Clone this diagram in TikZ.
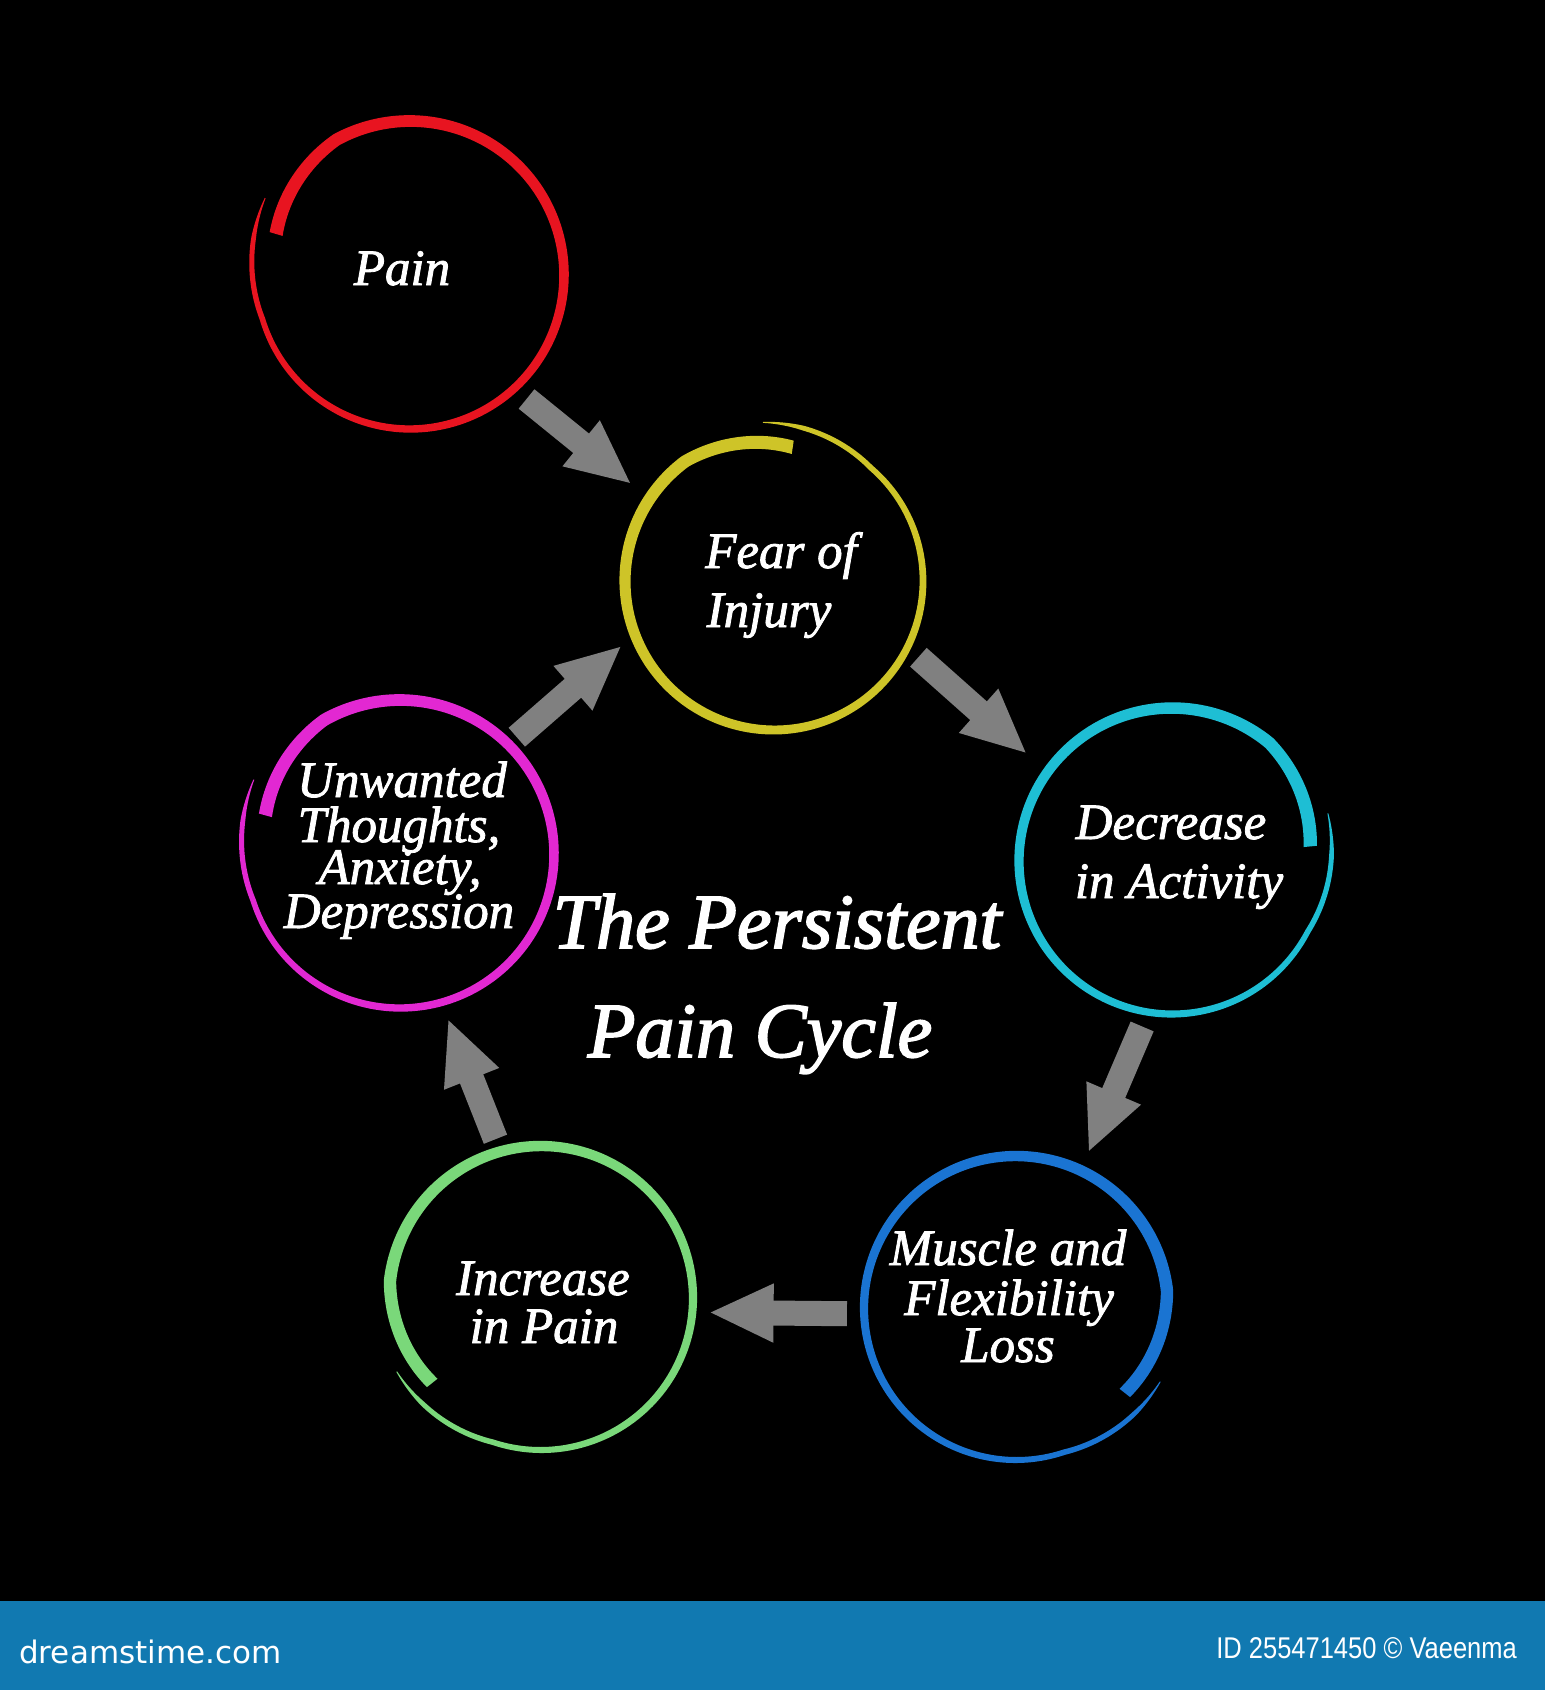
\documentclass[tikz,border=0pt]{standalone}
\usepackage{fontspec}
\setmainfont{Liberation Serif}[ItalicFeatures={FakeBold=1.6}]
\newfontfamily\titlefont{Liberation Serif}[ItalicFeatures={FakeBold=2.2}]
\newfontfamily\barfont{DejaVu Sans}
\newfontfamily\idfont[FakeStretch=0.85]{Liberation Sans}
\usetikzlibrary{arrows.meta}
\definecolor{cred}{RGB}{232,20,32}
\definecolor{cyellow}{RGB}{206,196,40}
\definecolor{ccyan}{RGB}{30,190,212}
\definecolor{cblue}{RGB}{26,116,210}
\definecolor{cgreen}{RGB}{122,216,122}
\definecolor{cmagenta}{RGB}{226,40,210}
\definecolor{arrowgray}{RGB}{128,128,128}
\definecolor{barblue}{RGB}{17,121,177}
\newcommand{\brushring}[6]{%
  \fill[#6] plot[domain=0:1,samples=260,variable=\s]
   ({#1+(rr(\s,#3)+ww(\s)/2)*cos(#4+(#5)*\s)},{#2-(rr(\s,#3)+ww(\s)/2)*sin(#4+(#5)*\s)})
   -- plot[domain=1:0,samples=260,variable=\s]
   ({#1+(rr(\s,#3)-ww(\s)/2)*cos(#4+(#5)*\s)},{#2-(rr(\s,#3)-ww(\s)/2)*sin(#4+(#5)*\s)})
   -- cycle;}
\begin{document}
\begin{tikzpicture}[x=1pt,y=-1pt,
  ring/.style={circle,draw=none,minimum size=330pt,inner sep=0pt},
  lbl/.style={text=white,inner sep=0pt,anchor=base,font=\fontsize{51}{51}\selectfont\itshape},
  ttl/.style={text=white,inner sep=0pt,anchor=base,font=\titlefont\fontsize{78}{78}\selectfont\itshape},
  blockarrow/.style={draw=arrowgray,line width=25pt,-{Triangle[length=65pt,width=54pt]}},
  declare function={rr(\s,\R)=\R-14*max(0,1-\s/0.12)+10*max(0,(\s-0.88)/0.12);
                    ww(\s)=(13.5-9*\s)*min(1,(1-\s)/0.05+0.2);}
]
\useasboundingbox (0,0) rectangle (1545,1690);
\fill[black] (0,0) rectangle (1545,1690);

% circle nodes
\node[ring] (pain) at (410,275) {};
\node[ring] (fear) at (774,581) {};
\node[ring] (decr) at (1172,861) {};
\node[ring] (musc) at (1016,1308) {};
\node[ring] (incr) at (541,1298) {};
\node[ring] (unwa) at (400,854) {};

% brush rings
\brushring{410}{275}{154}{163}{-371}{cred}
\brushring{774}{581}{149}{82}{372}{cyellow}
\brushring{1172}{861}{153}{6}{371}{ccyan}
\brushring{1016}{1308}{152}{-38}{371}{cblue}
\brushring{541}{1298}{152}{218}{-371}{cgreen}
\brushring{400}{854}{154}{164}{-371}{cmagenta}

% labels
\node[lbl] (painA) at (402,285) {Pain};
\node[lbl] (fearA) at (781,568) {Fear of};
\node[lbl] (fearB) at (769,627) {Injury};
\node[lbl] (decrA) at (1171,839) {Decrease};
\node[lbl] (decrB) at (1179,898) {in Activity};
\node[lbl] (unwaA) at (402,797) {Unwanted};
\node[lbl] (unwaB) at (399,842) {Thoughts,};
\node[lbl] (unwaC) at (400,884) {Anxiety,};
\node[lbl] (unwaD) at (399,928) {Depression};
\node[lbl] (muscA) at (1008,1265) {Muscle and};
\node[lbl] (muscB) at (1009,1315) {Flexibility};
\node[lbl] (muscC) at (1008,1362) {Loss};
\node[lbl] (incrA) at (543,1295) {Increase};
\node[lbl] (incrB) at (544,1343) {in Pain};
\node[ttl] (titleA) at (777,948) {The Persistent};
\node[ttl] (titleB) at (760,1057) {Pain Cycle};

% arrows
\draw[blockarrow,shorten <=5pt,shorten >=7pt] (pain.-47.6) -- (fear.146.1);
\draw[blockarrow,shorten <=-2pt,shorten >=15pt] (fear.-28.9) -- (decr.144.7);
\draw[blockarrow,shorten <=3pt,shorten >=6pt] (decr.-100.6) -- (musc.65.1);
\draw[blockarrow,shorten <=4pt,shorten >=3pt] (musc.-178) -- (incr.-5.1);
\draw[blockarrow,shorten <=0pt,shorten >=6pt] (incr.106.6) -- (unwa.-74.7);
\draw[blockarrow,shorten <=0pt,shorten >=0pt] (unwa.45.7) -- (fear.-157.2);

% bottom bar
\fill[barblue] (0,1601) rectangle (1545,1690);
\node[text=white,inner sep=0pt,anchor=base west,font=\barfont\fontsize{31}{31}\selectfont] (brand) at (19,1663) {dreamstime.com};
\node[text=white,inner sep=0pt,anchor=base east,font=\idfont\fontsize{30}{30}\selectfont] (idtext) at (1517,1658) {ID 255471450 © Vaeenma};
\end{tikzpicture}
\end{document}
